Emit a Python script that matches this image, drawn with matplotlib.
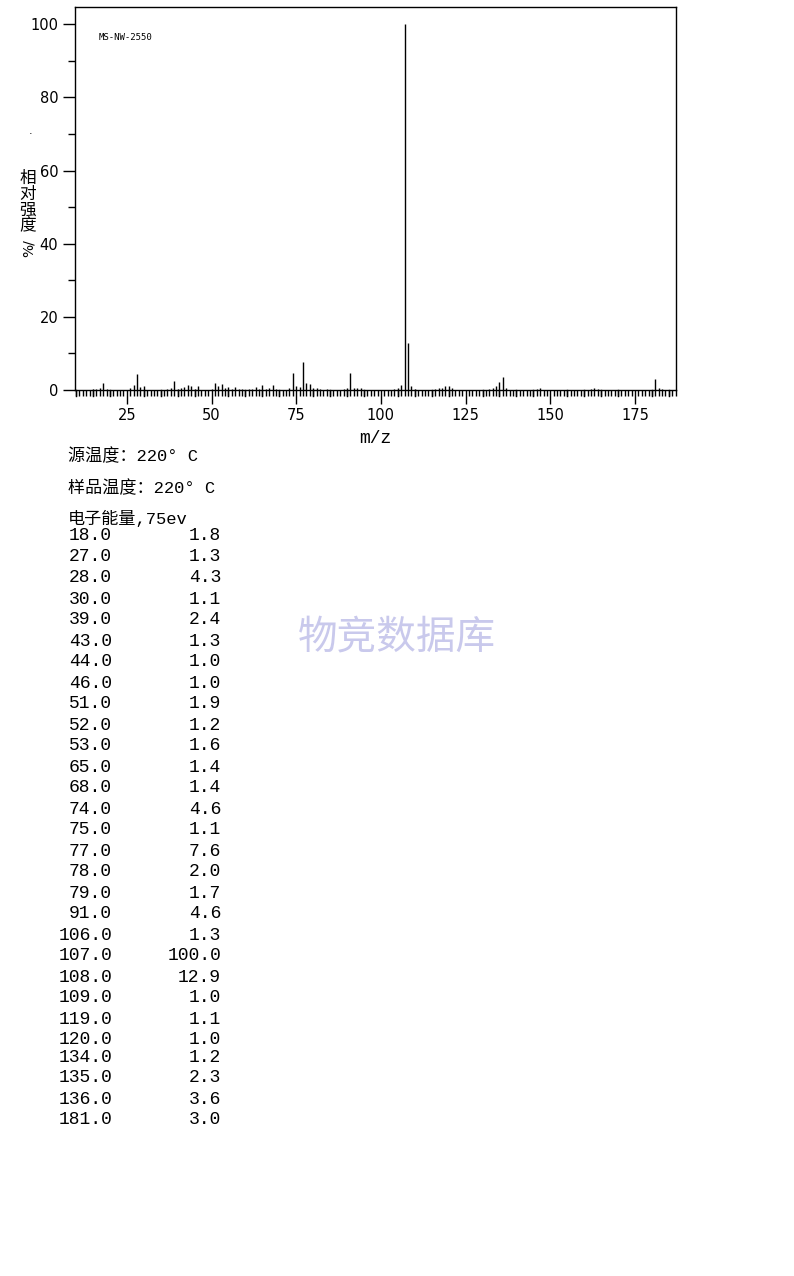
import matplotlib
matplotlib.use("Agg")
import matplotlib.pyplot as plt
from matplotlib.ticker import MultipleLocator

# ---- data ----
mz_listed = [18, 27, 28, 30, 39, 43, 44, 46, 51, 52, 53, 65, 68, 74, 75, 77, 78, 79,
             91, 106, 107, 108, 109, 119, 120, 134, 135, 136, 181]
int_listed = [1.8, 1.3, 4.3, 1.1, 2.4, 1.3, 1.0, 1.0, 1.9, 1.2, 1.6, 1.4, 1.4, 4.6, 1.1,
              7.6, 2.0, 1.7, 4.6, 1.3, 100.0, 12.9, 1.0, 1.1, 1.0, 1.2, 2.3, 3.6, 3.0]

mz_minor = [15, 16, 17, 19, 26, 29, 37, 38, 40, 41, 42, 45, 50, 54, 55, 56, 57, 58, 59,
            61, 62, 63, 64, 66, 67, 69, 73, 76, 80, 81, 82, 84, 89, 90, 92, 93, 94,
            104, 105, 110, 116, 117, 118, 121, 132, 133, 137, 146, 147, 162, 163, 164,
            182, 183]
int_minor = [0.4, 0.4, 0.5, 0.4, 0.6, 0.9, 0.4, 0.5, 0.4, 0.6, 0.9, 0.4, 0.4, 0.5, 0.7,
             0.4, 0.8, 0.4, 0.4, 0.4, 0.4, 0.8, 0.4, 0.4, 0.6, 0.4, 0.5, 0.9, 0.6, 0.5,
             0.4, 0.4, 0.4, 0.6, 0.6, 0.5, 0.5, 0.4, 0.6, 0.4, 0.4, 0.6, 0.6, 0.5, 0.4,
             0.5, 0.6, 0.4, 0.5, 0.4, 0.5, 0.4, 0.5, 0.4]

table_mz = [f"{m:.1f}" for m in mz_listed]
table_int = [f"{v:.1f}" for v in int_listed]

header_lines = ["源温度：220° C", "样品温度：220° C", "电子能量,75ev"]
sample_id = "MS-NW-2550"
watermark = "物竞数据库"

# ---- figure ----
W, H = 794, 1276
fig = plt.figure(figsize=(W / 100, H / 100), dpi=100)
fig.patch.set_facecolor("white")

def fx(x):
    return x / W

def fy(y):
    return 1 - y / H

ax = fig.add_axes([fx(75), fy(390), fx(676) - fx(75), fy(7) - fy(390)])
ax.vlines(mz_listed, 0, int_listed, colors="black", linewidth=1.0)
ax.vlines(mz_minor, 0, int_minor, colors="black", linewidth=1.0)
ax.set_xlim(9.7, 187.1)
ax.set_ylim(0, 104.7)

for s in ax.spines.values():
    s.set_linewidth(1.0)
    s.set_color("black")

ax.xaxis.set_major_locator(MultipleLocator(25))
ax.xaxis.set_minor_locator(MultipleLocator(1))
ax.yaxis.set_major_locator(MultipleLocator(20))
ax.yaxis.set_minor_locator(MultipleLocator(10))
ax.tick_params(axis="x", which="major", direction="out", length=10, width=1, labelsize=10.5, pad=3)
ax.tick_params(axis="x", which="minor", direction="out", length=4, width=1)
ax.tick_params(axis="y", which="major", direction="out", length=9, width=1, labelsize=10.5, pad=3)
ax.tick_params(axis="y", which="minor", direction="out", length=5, width=1)

# medium ticks every 5 units on x
for m in range(10, 187):
    if m % 5 == 0 and m % 25 != 0:
        ax.plot([m, m], [0, -1.7], color="black", lw=1.0, clip_on=False, zorder=3)

ax.text(0.04, 0.92, sample_id, transform=ax.transAxes, fontsize=6.5,
        family="DejaVu Sans Mono", va="center", ha="left")

# axis labels
fig.text(fx(375), fy(438), "m/z", fontsize=13, family="Liberation Mono", ha="center", va="center")
fig.text(fx(28), fy(202), "相\n对\n强\n度", fontsize=12, family="Noto Sans CJK SC",
         ha="center", va="center", linespacing=0.92)
fig.text(fx(29), fy(248), "%/", fontsize=10, rotation=90, family="DejaVu Sans",
         ha="center", va="center")
fig.text(fx(31), fy(131), ".", fontsize=8, ha="center", va="center")

# header text
fams = ["Liberation Mono", "Noto Sans CJK SC"]
header_y = [456, 488, 518]
for t, y in zip(header_lines, header_y):
    fig.text(fx(68), fy(y), t, fontsize=12.3, family=fams, ha="left", va="center")

# table
ys = []
for i in range(len(table_mz)):
    y = 536 + i * 21.0
    if i >= 25:
        y -= 4
    ys.append(y)
for a, b, y in zip(table_mz, table_int, ys):
    fig.text(fx(112), fy(y), a, fontsize=13, family="Liberation Mono", ha="right", va="center")
    fig.text(fx(221), fy(y), b, fontsize=13, family="Liberation Mono", ha="right", va="center")

# watermark
fig.text(fx(397), fy(637), watermark, fontsize=28.5, family="Noto Sans CJK SC",
         color="#c9c9ec", ha="center", va="center")

fig.savefig("out.png", dpi=100, facecolor="white")
